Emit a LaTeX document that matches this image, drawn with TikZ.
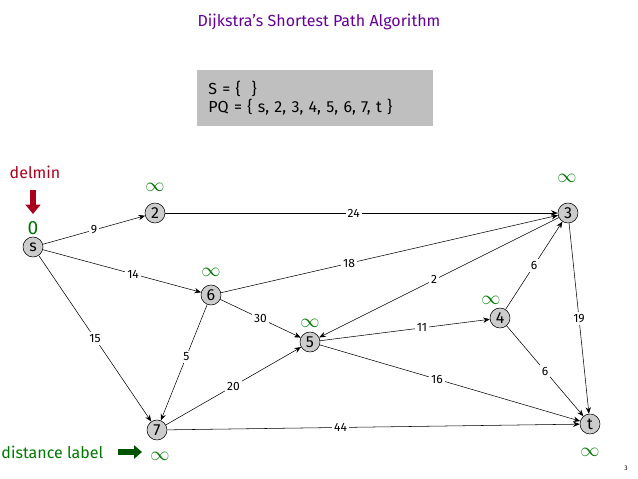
\documentclass[tikz,border=0pt]{standalone}
\usepackage{fontspec}
\setmainfont{Fira Sans}
\usetikzlibrary{arrows.meta}
\definecolor{ttl}{RGB}{102,0,153}
\definecolor{grn}{RGB}{0,120,0}
\definecolor{dred}{RGB}{170,0,30}
\begin{document}
\begin{tikzpicture}[x=0.75pt,y=-0.75pt,
  vtx/.style={circle,draw,fill=black!20,minimum size=15pt,inner sep=0pt,font=\large},
  edg/.style={-{Stealth[length=5pt,width=4pt]},thin},
  wl/.style={fill=white,inner sep=1.5pt,font=\small},
  inf/.style={text=grn,font=\Large}]
\useasboundingbox (0,0) rectangle (638,478);
\node[text=ttl,font=\large] (title) at (319,22) {Dijkstra's Shortest Path Algorithm};
\node[fill=black!25,minimum width=177pt,minimum height=42pt,align=left,text width=160pt,font=\large] (box) at (315,98) {S = \{ \ \}\\PQ = \{ s, 2, 3, 4, 5, 6, 7, t \}};
\node[vtx] (s) at (33,247) {s};
\node[vtx] (n2) at (155,213) {2};
\node[vtx] (n3) at (568,213) {3};
\node[vtx] (n6) at (211,295) {6};
\node[vtx] (n5) at (310,342) {5};
\node[vtx] (n4) at (500,318) {4};
\node[vtx] (t) at (590,424) {t};
\node[vtx] (n7) at (157,430) {7};
\draw[edg] (s) -- node[wl,pos=0.5]{9} (n2);
\draw[edg] (n2) -- node[wl,pos=0.48]{24} (n3);
\draw[edg] (s) -- node[wl,pos=0.57]{14} (n6);
\draw[edg] (n6) -- node[wl,pos=0.38]{18} (n3);
\draw[edg] (n3) -- node[wl,pos=0.52]{2} (n5);
\draw[edg] (s) -- node[wl,pos=0.5]{15} (n7);
\draw[edg] (n6) -- node[wl,pos=0.45]{5} (n7);
\draw[edg] (n6) -- node[wl,pos=0.5]{30} (n5);
\draw[edg] (n7) -- node[wl,pos=0.5]{20} (n5);
\draw[edg] (n5) -- node[wl,pos=0.6]{11} (n4);
\draw[edg] (n4) -- node[wl,pos=0.5]{6} (n3);
\draw[edg] (n4) -- node[wl,pos=0.5]{6} (t);
\draw[edg] (n3) -- node[wl,pos=0.5]{19} (t);
\draw[edg] (n5) -- node[wl,pos=0.45]{16} (t);
\draw[edg] (n7) -- node[wl,pos=0.42]{44} (t);
\node[text=grn,font=\Large] (z) at (33,228) {0};
\node[inf] (i2) at (155,187) {$\infty$};
\node[inf] (i3) at (567,178) {$\infty$};
\node[inf] (i6) at (211,272) {$\infty$};
\node[inf] (i5) at (310,323) {$\infty$};
\node[inf] (i4) at (491,300) {$\infty$};
\node[inf] (it) at (590,452) {$\infty$};
\node[inf] (i7) at (160,456) {$\infty$};
\node[text=dred,font=\large] (dm) at (35,172) {delmin};
\coordinate (da) at (33,190); \coordinate (db) at (33,214);
\draw[dred,-{Triangle[length=7pt,width=11pt]},line width=5pt] (da) -- (db);
\node[text=grn,font=\large,anchor=east] (dl) at (108,452) {distance label};
\coordinate (ga) at (118,452); \coordinate (gb) at (142,452);
\draw[grn!70!black,-{Triangle[length=6pt,width=10pt]},line width=5pt] (ga) -- (gb);
\node[font=\tiny] (pg) at (626,468) {3};
\end{tikzpicture}
\end{document}
